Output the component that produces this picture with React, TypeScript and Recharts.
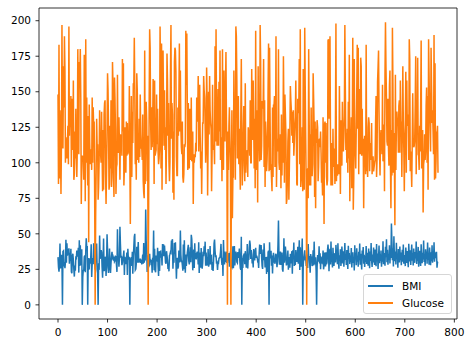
import { CartesianGrid, Line, LineChart, ReferenceArea, XAxis, YAxis } from 'recharts'

// values (row index 0..767)
const bmi = [
  33.6, 26.6, 23.3, 28.1, 43.1, 25.6, 31.0, 35.3, 30.5, 0.0, 37.6, 38.0, 27.1, 30.1, 25.8, 30.0, 45.8, 29.6, 43.3, 34.6,
  39.3, 35.4, 39.8, 29.0, 36.6, 31.1, 39.4, 23.2, 22.2, 34.1, 36.0, 31.6, 24.8, 19.9, 27.6, 24.0, 33.2, 32.9, 38.2, 37.1,
  34.0, 40.2, 22.7, 45.4, 27.4, 42.0, 29.7, 28.0, 39.1, 0.0, 19.4, 24.2, 24.4, 33.7, 34.7, 23.0, 37.7, 46.8, 40.5, 41.5,
  0.0, 32.9, 25.0, 25.4, 32.8, 29.0, 32.5, 42.7, 19.6, 28.9, 32.9, 28.6, 43.4, 35.1, 32.0, 24.7, 32.6, 37.7, 43.2, 25.0,
  22.4, 0.0, 29.3, 24.6, 48.8, 32.4, 36.6, 38.5, 37.1, 26.5, 19.1, 32.0, 46.7, 23.8, 24.7, 33.9, 31.6, 20.4, 28.7, 49.7,
  39.0, 26.1, 22.5, 26.6, 39.6, 28.7, 22.4, 29.5, 34.3, 37.4, 33.3, 34.0, 31.2, 34.0, 30.5, 31.2, 34.0, 33.7, 28.2, 23.2,
  53.2, 34.2, 33.6, 26.8, 33.3, 55.0, 42.9, 33.3, 34.5, 27.9, 29.7, 33.3, 34.5, 38.3, 21.1, 33.8, 30.8, 28.7, 31.2, 36.9,
  21.1, 39.5, 32.5, 32.4, 32.8, 0.0, 32.8, 30.5, 33.7, 27.3, 37.4, 21.9, 34.3, 40.6, 47.9, 50.0, 24.6, 25.2, 29.0, 40.9,
  29.7, 37.2, 44.2, 29.7, 31.6, 29.9, 32.5, 29.6, 31.9, 28.4, 30.8, 35.4, 28.9, 43.5, 29.7, 32.7, 31.2, 67.1, 45.0, 39.1,
  23.2, 34.9, 27.7, 26.8, 27.6, 35.9, 30.1, 32.0, 27.9, 31.6, 22.6, 33.1, 30.4, 52.3, 24.4, 39.4, 24.3, 22.9, 34.8, 30.9,
  31.0, 40.1, 27.3, 20.4, 37.7, 23.9, 37.5, 37.7, 33.2, 35.5, 27.7, 42.8, 34.2, 42.6, 34.2, 41.8, 35.8, 30.0, 29.0, 37.8,
  34.6, 31.6, 25.2, 28.8, 23.6, 34.6, 35.7, 37.2, 36.7, 45.2, 44.0, 46.2, 25.4, 35.0, 29.7, 43.6, 35.9, 44.1, 30.8, 18.4,
  29.2, 33.1, 25.6, 27.1, 38.2, 30.0, 31.2, 52.3, 35.4, 30.1, 31.2, 28.0, 24.1, 42.4, 25.0, 45.4, 29.8, 22.6, 35.4, 27.4,
  32.0, 36.6, 39.5, 42.3, 30.8, 28.5, 32.7, 40.6, 30.0, 49.3, 46.3, 36.4, 24.3, 31.2, 39.0, 26.0, 43.3, 32.4, 36.5, 32.0,
  36.3, 37.5, 35.5, 28.4, 44.0, 22.5, 32.9, 36.8, 26.2, 40.0, 31.6, 25.5, 29.3, 37.4, 34.3, 41.2, 35.7, 44.5, 27.6, 36.8,
  27.6, 33.6, 27.8, 39.3, 26.9, 28.8, 31.3, 41.5, 28.4, 34.3, 34.6, 24.6, 30.1, 23.8, 30.8, 43.3, 45.9, 38.1, 33.6, 34.9,
  28.9, 30.1, 24.6, 30.1, 29.7, 32.8, 33.0, 33.5, 37.4, 42.9, 31.9, 28.1, 33.2, 20.4, 45.6, 32.6, 28.5, 37.6, 31.1, 30.6,
  36.2, 37.5, 29.5, 33.8, 32.4, 36.5, 26.8, 30.8, 37.6, 32.0, 27.0, 26.3, 29.0, 41.3, 25.8, 30.7, 41.5, 27.8, 34.9, 37.5,
  35.8, 30.2, 29.6, 37.2, 33.1, 34.2, 39.7, 30.9, 25.8, 24.6, 47.9, 0.0, 33.2, 26.0, 34.2, 35.0, 36.1, 28.6, 37.8, 32.4,
  26.2, 27.5, 42.8, 25.6, 33.3, 31.6, 40.6, 45.3, 42.3, 32.3, 38.5, 35.6, 29.1, 32.9, 26.4, 39.3, 36.5, 31.2, 36.3, 40.2,
  33.1, 34.6, 33.2, 30.9, 31.4, 25.9, 36.2, 42.4, 35.8, 40.6, 42.1, 33.6, 27.2, 25.3, 38.9, 31.4, 43.4, 34.5, 26.4, 27.8,
  33.6, 21.8, 33.8, 23.1, 36.9, 38.2, 0.0, 44.0, 32.7, 34.3, 38.1, 27.6, 34.8, 22.1, 33.5, 36.7, 29.8, 32.4, 28.9, 35.1,
  36.0, 32.0, 26.5, 30.8, 42.2, 59.4, 36.4, 28.3, 33.6, 37.5, 28.1, 32.5, 36.8, 25.2, 23.4, 31.1, 46.8, 29.7, 33.3, 41.0,
  36.3, 27.8, 28.8, 31.3, 38.2, 24.8, 33.7, 27.5, 26.2, 35.9, 29.3, 30.4, 37.8, 21.9, 38.4, 32.8, 43.9, 27.3, 33.1, 28.0,
  38.6, 34.7, 30.2, 32.5, 40.8, 29.0, 34.4, 45.5, 24.6, 40.5, 30.1, 26.9, 35.0, 46.7, 0.0, 28.4, 32.9, 35.6, 38.4, 31.2,
  33.8, 27.3, 35.5, 32.0, 25.9, 42.9, 33.1, 34.4, 29.2, 22.7, 35.8, 33.2, 34.0, 27.3, 31.2, 38.5, 27.7, 44.5, 31.6, 28.4,
  33.5, 24.0, 0.0, 26.6, 35.0, 32.5, 30.5, 41.3, 29.2, 36.4, 25.1, 33.9, 30.6, 29.8, 31.0, 38.2, 25.0, 27.8, 36.9, 34.3,
  27.0, 37.1, 28.6, 30.1, 38.6, 42.5, 36.6, 23.6, 35.6, 39.4, 28.5, 44.6, 30.4, 31.9, 26.3, 40.1, 32.7, 27.4, 34.0, 36.5,
  29.9, 42.2, 36.1, 33.4, 28.7, 43.3, 32.1, 25.5, 34.9, 31.6, 39.2, 27.4, 30.9, 41.0, 35.3, 29.2, 37.8, 26.9, 33.7, 43.5,
  31.6, 35.2, 28.0, 38.6, 30.5, 25.3, 41.6, 33.0, 36.4, 28.7, 34.8, 30.1, 40.0, 26.4, 32.9, 37.0, 29.5, 33.7, 24.2, 42.0,
  32.7, 36.5, 27.9, 39.8, 30.4, 34.6, 26.9, 37.3, 31.5, 43.1, 28.3, 35.9, 30.8, 24.9, 38.2, 33.5, 40.7, 29.0, 35.2, 26.6,
  34.4, 30.2, 41.4, 28.7, 36.7, 32.1, 27.6, 39.6, 33.9, 25.8, 37.5, 30.9, 43.6, 31.2, 26.7, 35.4, 29.8, 40.3, 32.6, 28.1,
  38.9, 34.0, 27.2, 42.9, 30.6, 36.1, 25.3, 33.4, 41.8, 29.4, 35.7, 31.0, 38.3, 26.8, 34.9, 30.3, 44.8, 28.6, 36.4, 32.3,
  27.5, 40.9, 33.6, 46.1, 30.0, 38.7, 28.2, 35.3, 31.8, 42.0, 29.1, 36.8, 33.0, 57.3, 44.2, 31.5, 39.9, 27.0, 48.3, 34.1,
  30.7, 37.6, 28.4, 43.7, 32.9, 35.6, 26.2, 39.3, 33.2, 29.8, 41.1, 31.4, 36.9, 27.9, 34.6, 38.8, 30.3, 42.5, 28.9, 35.0,
  32.4, 27.3, 40.3, 34.7, 29.5, 37.9, 31.8, 26.5, 43.0, 33.9, 30.5, 38.4, 28.1, 35.8, 42.4, 31.0, 36.5, 27.7, 39.7, 33.0,
  29.6, 37.1, 32.6, 44.5, 28.8, 35.3, 30.9, 40.8, 26.9, 34.4, 38.0, 31.3, 27.4, 42.7, 33.8, 29.3, 36.7, 31.9, 45.3, 30.2,
  34.9, 27.5, 39.1, 32.3, 37.6, 29.0, 43.9, 31.6, 35.5, 28.3, 40.4, 33.4, 27.9, 37.0, 30.8, 41.9, 29.6, 35.0, 32.2, 44.0,
  30.4, 36.6, 32.9, 36.8, 36.8, 26.2, 30.1, 30.4
]

const glucose = [
  148, 85, 183, 89, 137, 116, 78, 115, 197, 125, 110, 168, 139, 189, 166, 100, 118, 107, 103, 115,
  126, 99, 196, 119, 143, 125, 147, 97, 145, 117, 109, 158, 88, 92, 122, 103, 138, 102, 90, 111,
  180, 133, 106, 171, 159, 180, 146, 71, 103, 105, 103, 101, 88, 176, 150, 73, 187, 100, 146, 105,
  84, 133, 44, 141, 114, 99, 109, 109, 95, 146, 100, 139, 126, 129, 79, 0, 62, 95, 131, 112,
  113, 74, 83, 101, 137, 110, 106, 100, 136, 107, 80, 123, 81, 134, 142, 144, 92, 71, 93, 122,
  163, 151, 125, 81, 85, 126, 96, 144, 83, 95, 171, 155, 89, 76, 160, 146, 124, 78, 97, 99,
  162, 111, 107, 132, 113, 88, 120, 118, 117, 105, 173, 122, 170, 84, 96, 125, 100, 93, 129, 105,
  128, 106, 108, 108, 154, 102, 57, 106, 147, 90, 136, 114, 156, 153, 188, 152, 99, 109, 88, 163,
  151, 102, 114, 100, 131, 104, 148, 120, 110, 111, 102, 134, 87, 79, 75, 179, 85, 129, 143, 130,
  87, 119, 0, 73, 141, 194, 181, 128, 109, 139, 111, 123, 159, 135, 85, 158, 105, 107, 109, 148,
  113, 138, 108, 99, 103, 111, 196, 162, 96, 184, 81, 147, 179, 140, 112, 151, 109, 125, 85, 112,
  177, 158, 119, 142, 100, 87, 101, 162, 197, 117, 142, 134, 79, 122, 74, 171, 181, 179, 164, 104,
  91, 91, 139, 119, 146, 184, 122, 165, 124, 111, 106, 129, 90, 86, 92, 113, 111, 114, 193, 155,
  191, 141, 95, 142, 123, 96, 138, 128, 102, 146, 101, 108, 122, 71, 106, 100, 106, 104, 114, 108,
  146, 129, 133, 161, 108, 136, 155, 119, 96, 108, 78, 107, 128, 128, 161, 151, 146, 126, 100, 112,
  167, 144, 77, 115, 150, 120, 161, 137, 128, 124, 80, 106, 155, 113, 109, 112, 99, 182, 115, 194,
  129, 112, 124, 152, 112, 157, 122, 179, 102, 105, 118, 87, 180, 106, 95, 165, 117, 115, 152, 178,
  130, 95, 0, 122, 95, 126, 139, 116, 99, 0, 92, 137, 61, 90, 90, 165, 125, 129, 88, 196,
  189, 158, 103, 146, 147, 99, 124, 101, 81, 133, 173, 118, 84, 105, 122, 140, 98, 87, 156, 93,
  107, 105, 109, 90, 125, 119, 116, 105, 144, 100, 100, 166, 131, 116, 158, 127, 96, 131, 82, 193,
  95, 137, 136, 72, 168, 123, 115, 101, 197, 172, 102, 112, 143, 143, 138, 173, 97, 144, 83, 129,
  119, 94, 102, 115, 151, 184, 94, 181, 135, 95, 99, 89, 80, 139, 90, 141, 140, 147, 97, 107,
  189, 83, 117, 108, 117, 180, 100, 95, 104, 120, 82, 134, 91, 119, 100, 175, 135, 86, 148, 134,
  120, 71, 74, 88, 115, 124, 74, 97, 120, 154, 144, 137, 119, 136, 114, 137, 105, 114, 126, 132,
  158, 123, 85, 84, 145, 135, 139, 173, 99, 194, 83, 89, 99, 125, 80, 166, 110, 81, 195, 154,
  117, 84, 0, 94, 96, 75, 180, 130, 84, 120, 84, 139, 91, 91, 99, 163, 145, 125, 76, 129,
  68, 124, 114, 130, 125, 87, 97, 116, 117, 111, 122, 107, 86, 91, 77, 132, 105, 57, 127, 129,
  100, 128, 90, 84, 88, 186, 187, 131, 164, 189, 116, 84, 114, 88, 84, 124, 97, 110, 103, 85,
  125, 198, 87, 99, 91, 95, 99, 92, 154, 121, 78, 130, 111, 98, 143, 119, 108, 118, 133, 197,
  151, 109, 121, 100, 124, 93, 143, 103, 176, 73, 111, 112, 132, 82, 123, 188, 67, 89, 173, 109,
  108, 96, 124, 150, 183, 124, 181, 92, 152, 111, 106, 174, 168, 105, 138, 106, 117, 68, 112, 119,
  112, 92, 183, 94, 108, 90, 125, 132, 128, 94, 114, 102, 111, 128, 92, 104, 104, 94, 97, 100,
  102, 128, 147, 90, 103, 157, 167, 179, 136, 107, 91, 117, 123, 120, 106, 155, 101, 120, 127, 80,
  162, 199, 167, 145, 115, 112, 145, 111, 98, 154, 165, 99, 68, 123, 91, 195, 156, 93, 121, 101,
  56, 162, 95, 125, 136, 129, 130, 107, 140, 144, 107, 158, 121, 129, 90, 125, 168, 129, 110, 80,
  115, 127, 164, 93, 158, 126, 129, 134, 102, 187, 173, 94, 108, 97, 83, 114, 149, 117, 111, 112,
  116, 141, 175, 92, 130, 120, 174, 106, 105, 95, 126, 108, 138, 186, 96, 118, 123, 65, 99, 102,
  120, 102, 109, 140, 153, 100, 147, 81, 187, 162, 136, 121, 108, 181, 154, 128, 137, 123, 106, 190,
  88, 170, 89, 101, 122, 121, 126, 93
]

const xTicks = [0, 100, 200, 300, 400, 500, 600, 700, 800]
const yTicks = [0, 25, 50, 75, 100, 125, 150, 175, 200]

const data = glucose.map((g, i) => ({ i, BMI: bmi[i], Glucose: g }))

const xDomain = [-38.35, 805.35]
const yDomain = [-9.95, 208.95]

const tickStyle = { fontSize: 10.5, fontFamily: 'DejaVu Sans', fill: '#000' }

function LegendBox() {
  const row = (label: string, color: string, top: number) => (
    <div style={{ position: 'absolute', left: 4, top, display: 'flex', alignItems: 'center' }}>
      <span style={{ width: 25, height: 1.5, background: color, display: 'inline-block' }} />
      <span style={{ marginLeft: 9, fontSize: 10.5, lineHeight: '12px' }}>{label}</span>
    </div>
  )
  return (
    <div
      style={{
        position: 'absolute',
        left: 363,
        top: 274,
        width: 87,
        height: 38,
        border: '1px solid #d6d6d6',
        borderRadius: 3,
        background: 'rgba(255,255,255,0.8)',
        fontFamily: 'DejaVu Sans',
        color: '#000'
      }}
    >
      {row('BMI', '#1f77b4', 5)}
      {row('Glucose', '#ff7f0e', 22)}
    </div>
  )
}

export default function App() {
  return (
    <div style={{ position: 'absolute', left: 0, top: 0, width: 474, height: 348, background: '#fff' }}>
      <LineChart width={474} height={348} data={data} margin={{ top: 8, right: 17, bottom: 0, left: 0 }}>
        <CartesianGrid horizontal={false} vertical={false} />
        <XAxis
          dataKey="i"
          type="number"
          domain={xDomain}
          ticks={xTicks}
          allowDataOverflow
          axisLine={false}
          tickLine={{ stroke: '#000', strokeWidth: 0.8 }}
          tickSize={3.5}
          tickMargin={6}
          height={29}
          tick={tickStyle}
        />
        <YAxis
          type="number"
          domain={yDomain}
          ticks={yTicks}
          allowDataOverflow
          axisLine={false}
          tickLine={{ stroke: '#000', strokeWidth: 0.8 }}
          tickSize={3.5}
          tickMargin={4.5}
          width={39}
          tick={tickStyle}
        />
        <Line
          dataKey="BMI"
          type="linear"
          stroke="#1f77b4"
          strokeWidth={1.5}
          dot={false}
          isAnimationActive={false}
        />
        <Line
          dataKey="Glucose"
          type="linear"
          stroke="#ff7f0e"
          strokeWidth={1.5}
          dot={false}
          isAnimationActive={false}
        />
        <ReferenceArea
          x1={xDomain[0]}
          x2={xDomain[1]}
          y1={yDomain[0]}
          y2={yDomain[1]}
          fill="none"
          stroke="#000"
          strokeWidth={0.8}
          ifOverflow="extendDomain"
        />
      </LineChart>
      <LegendBox />
    </div>
  )
}
